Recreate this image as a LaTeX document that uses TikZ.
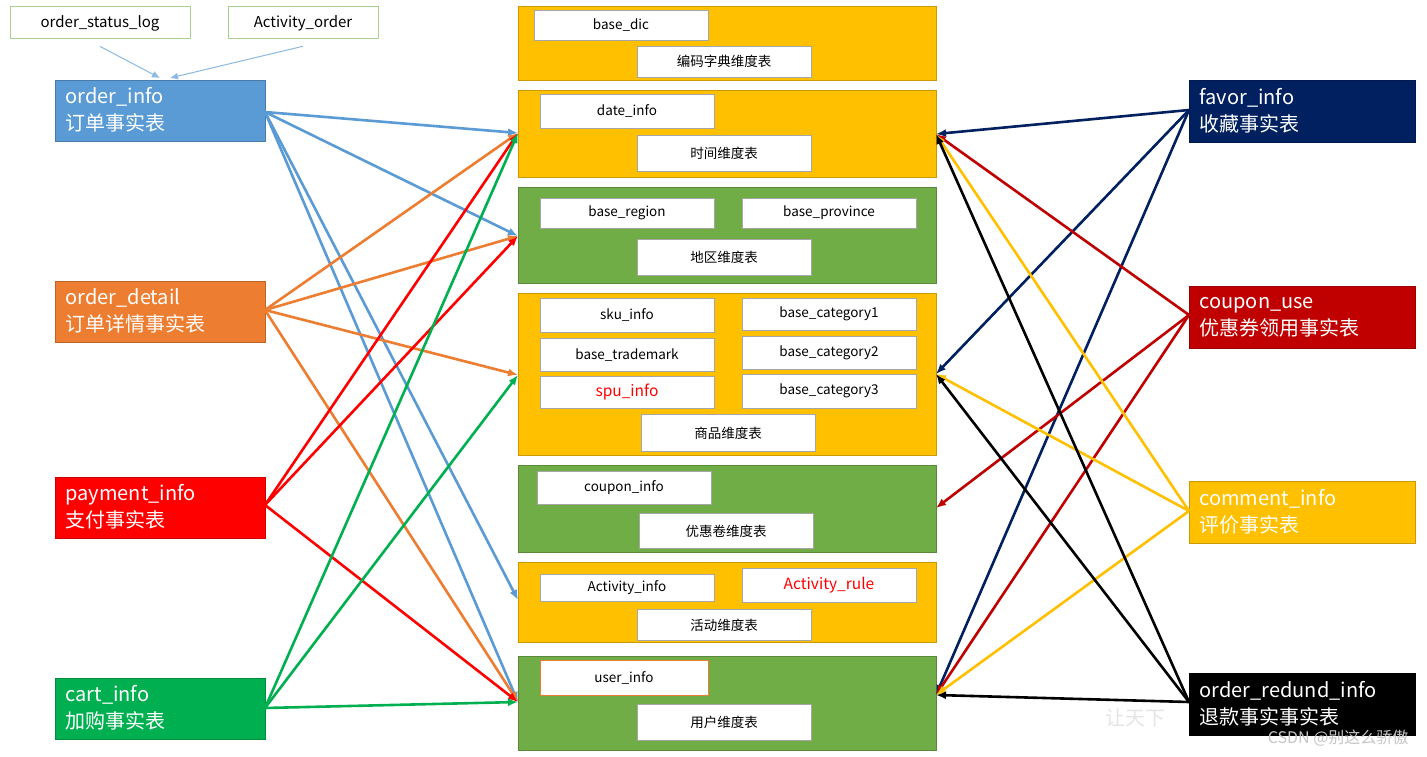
\documentclass[tikz,border=0pt]{standalone}
\usepackage{fontspec}
\setmainfont{Noto Sans CJK SC}
\usetikzlibrary{arrows.meta}
\definecolor{cblue}{HTML}{5B9BD5}
\definecolor{corange}{HTML}{ED7D31}
\definecolor{cred}{HTML}{FF0000}
\definecolor{cgreen}{HTML}{00B050}
\definecolor{cnavy}{HTML}{002060}
\definecolor{cdred}{HTML}{C00000}
\definecolor{cyel}{HTML}{FFC000}
\definecolor{cgrp}{HTML}{70AD47}
\definecolor{cborder}{HTML}{A9D18E}
\begin{document}
\begin{tikzpicture}[x=1pt,y=-1pt,
  fact/.style={fill=#1,draw=#1!80!black,line width=0.6pt},
  grp/.style={fill=#1,draw=#1!80!black,line width=0.6pt},
  tbl/.style={fill=white,draw=gray!70,line width=0.5pt},
  ftxt/.style={text=white,font=\fontsize{20}{27}\selectfont,align=left,anchor=west},
  ttxt/.style={font=\fontsize{13.5}{15}\selectfont},
  arr/.style={-{Latex[length=10pt,width=8pt]},line width=2.6pt,draw=#1}]
\useasboundingbox (0,0) rectangle (1427,757);
\fill[white] (0,0) rectangle (1427,757);
% top small
\draw[fill=white,draw=cborder,line width=1pt] (10,7) rectangle (190,39);
\node[font=\fontsize{15}{17}\selectfont] (osl) at (100,23) {order\_status\_log};
\draw[fill=white,draw=cborder,line width=1pt] (228,7) rectangle (378,39);
\node[font=\fontsize{15}{17}\selectfont] (ao) at (303,23) {Activity\_order};
% left facts
\foreach \n/\c/\y/\a/\b in {oi/cblue/80/order\_info/订单事实表, od/corange/281/order\_detail/订单详情事实表, pi/cred/477/payment\_info/支付事实表, ci/cgreen/678/cart\_info/加购事实表}{
  \draw[fact=\c] (55,\y) rectangle (265,\y+61);
  \node[ftxt] (\n) at (62,\y+30) {\a\\\b};
}
% right facts
\foreach \n/\c/\y/\a/\b in {fi/cnavy/80/favor\_info/收藏事实表, cu/cdred/286/coupon\_use/优惠券领用事实表, cm/cyel/481/comment\_info/评价事实表, ori/black/673/order\_redund\_info/退款事实事实表}{
  \draw[fact=\c] (1189,\y) rectangle (1415,\y+62);
  \node[ftxt] (\n) at (1196,\y+31) {\a\\\b};
}
% groups
\foreach \g/\c/\ya/\yb in {g1/cyel/6/80, g2/cyel/90/177, g3/cgrp/187/283, g4/cyel/293/455, g5/cgrp/465/552, g6/cyel/562/642, g7/cgrp/656/750}{
  \draw[grp=\c] (518,\ya) rectangle (936,\yb);
}
\draw[tbl] (534,10) rectangle (708,40); \node[ttxt] (t1) at (621,25) {base\_dic};
\draw[tbl] (637,46) rectangle (811,77); \node[ttxt] (t2) at (724,61) {编码字典维度表};
\draw[tbl] (540,94) rectangle (714,128); \node[ttxt] (t3) at (627,111) {date\_info};
\draw[tbl] (637,135) rectangle (811,171); \node[ttxt] (t4) at (724,153) {时间维度表};
\draw[tbl] (540,198) rectangle (714,228); \node[ttxt] (t5) at (627,213) {base\_region};
\draw[tbl] (742,198) rectangle (916,228); \node[ttxt] (t6) at (829,213) {base\_province};
\draw[tbl] (637,239) rectangle (811,275); \node[ttxt] (t7) at (724,257) {地区维度表};
\draw[tbl] (540,298) rectangle (714,332); \node[ttxt] (t8) at (627,315) {sku\_info};
\draw[tbl] (742,298) rectangle (916,330); \node[ttxt] (t9) at (829,314) {base\_category1};
\draw[tbl] (540,338) rectangle (714,371); \node[ttxt] (t10) at (627,355) {base\_trademark};
\draw[tbl] (742,336) rectangle (916,369); \node[ttxt] (t11) at (829,353) {base\_category2};
\draw[tbl] (540,376) rectangle (714,408); \node[ttxt,text=red,font=\fontsize{15.5}{17}\selectfont] (t12) at (627,392) {spu\_info};
\draw[tbl] (742,374) rectangle (916,408); \node[ttxt] (t13) at (829,391) {base\_category3};
\draw[tbl] (641,414) rectangle (815,451); \node[ttxt] (t14) at (728,433) {商品维度表};
\draw[tbl] (537,471) rectangle (711,504); \node[ttxt] (t15) at (624,488) {coupon\_info};
\draw[tbl] (639,513) rectangle (813,548); \node[ttxt] (t16) at (726,531) {优惠卷维度表};
\draw[tbl] (540,574) rectangle (714,601); \node[ttxt] (t17) at (627,588) {Activity\_info};
\draw[tbl] (742,568) rectangle (916,602); \node[ttxt,text=red,font=\fontsize{15.5}{17}\selectfont] (t18) at (829,585) {Activity\_rule};
\draw[tbl] (637,609) rectangle (811,640); \node[ttxt] (t19) at (724,625) {活动维度表};
\draw[fill=white,draw=corange,line width=0.8pt] (540,660) rectangle (708,695); \node[ttxt] (t20) at (624,678) {user\_info};
\draw[tbl] (637,704) rectangle (811,740); \node[ttxt] (t21) at (724,722) {用户维度表};
% endpoints
\coordinate (L2) at (518,133); \coordinate (L3) at (518,236); \coordinate (L4) at (518,375);
\coordinate (L6) at (518,600); \coordinate (L7) at (518,702);
\coordinate (R2) at (936,134); \coordinate (R4) at (936,374); \coordinate (R5) at (936,508); \coordinate (R7) at (936,695);
\coordinate (oiR) at (265,112); \coordinate (odR) at (265,310); \coordinate (piR) at (265,505); \coordinate (ciR) at (265,708);
\coordinate (fiL) at (1189,110); \coordinate (cuL) at (1189,315); \coordinate (cmL) at (1189,511); \coordinate (oriL) at (1189,702);
\draw[arr=cblue!70,line width=1pt,-{Latex[length=8pt,width=7pt]}] (osl.south) ++(0,12) -- (160,78);
\draw[arr=cblue!70,line width=1pt,-{Latex[length=8pt,width=7pt]}] (ao.south) ++(0,12) -- (170,78);
\foreach \t in {L2,L3,L6,L7} \draw[arr=cblue] (oiR) -- (\t);
\foreach \t in {L2,L3,L4,L7} \draw[arr=corange] (odR) -- (\t);
\foreach \t in {L2,L3,L7} \draw[arr=cred] (piR) -- (\t);
\foreach \t in {L2,L4,L7} \draw[arr=cgreen] (ciR) -- (\t);
\foreach \t in {R2,R4,R7} \draw[arr=cnavy] (fiL) -- (\t);
\foreach \t in {R2,R5,R7} \draw[arr=cdred] (cuL) -- (\t);
\foreach \t in {R2,R4,R7} \draw[arr=cyel] (cmL) -- (\t);
\foreach \t in {R2,R4,R7} \draw[arr=black] (oriL) -- (\t);
\node[text=gray!20,font=\fontsize{20}{22}\selectfont] (wm) at (1135,718) {让天下};
\node[text=gray!45,font=\fontsize{16}{18}\selectfont,anchor=east] (csdn) at (1412,738) {CSDN @别这么骄傲};
\end{tikzpicture}
\end{document}
